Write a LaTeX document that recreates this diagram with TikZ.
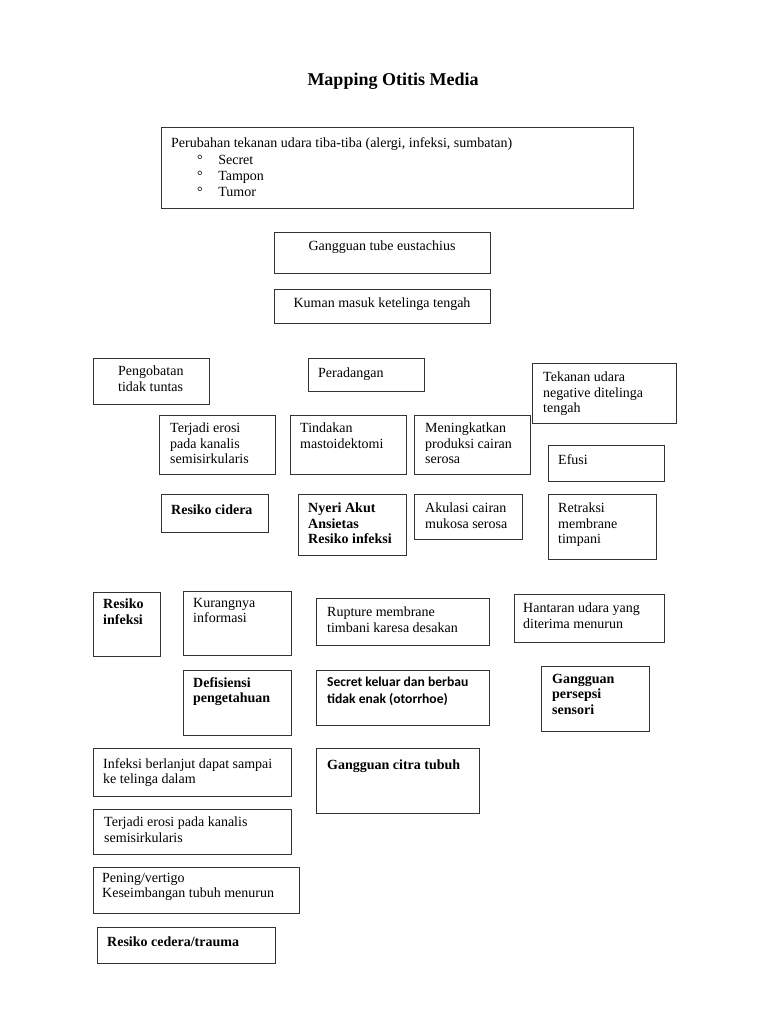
\documentclass[tikz,border=0pt]{standalone}
\usepackage{fontspec}
\setmainfont{Liberation Serif}
\newfontfamily\calibfont{Carlito}
\usepackage{tikz}
\newcommand\mapfont{\fontsize{14}{15.5}\selectfont}

\tikzset{
  box/.style={draw=black!80, line width=0.9pt, inner sep=0pt, outer sep=0pt, anchor=north west},
  txt/.style={anchor=north west, inner sep=0pt, align=left, font=\mapfont, yshift=-2pt, execute at begin node=\strut},
  btxt/.style={txt, font=\mapfont\bfseries},
}

\begin{document}
\begin{tikzpicture}[x=1pt, y=-1pt]
    % Page frame
    \useasboundingbox (0,0) rectangle (768,1024);
    \fill[white] (0,0) rectangle (768,1024);

    % Title
    \node[anchor=base, inner sep=0pt, font=\fontsize{18}{21}\selectfont\bfseries] (title) at (393,86) {Mapping Otitis Media};

    % Causes
    \node[box, minimum width=472pt, minimum height=81pt] (perubahan) at (161,127) {};
    \node[txt] (perubahanT) at (171,134) {Perubahan tekanan udara tiba-tiba (alergi, infeksi, sumbatan)};
    \foreach \i/\item in {1/Secret, 2/Tampon, 3/Tumor}
        \node[txt] (bullet\i) at (197,135+16*\i) {°\hspace{15.5pt}\item};

    \node[box, minimum width=216pt, minimum height=41pt] (tube) at (274,232) {};
    \node[txt, anchor=north] (tubeT) at (382,237) {Gangguan tube eustachius};

    \node[box, minimum width=216pt, minimum height=34pt] (kuman) at (274,289) {};
    \node[txt, anchor=north] (kumanT) at (382,294) {Kuman masuk ketelinga tengah};

    % Second level
    \node[box, minimum width=116pt, minimum height=46pt] (pengobatan) at (93,358) {};
    \node[txt] (pengobatanT) at (118,364) {Pengobatan\\tidak tuntas};

    \node[box, minimum width=116pt, minimum height=33pt] (peradangan) at (308,358) {};
    \node[txt] (peradanganT) at (318,364) {Peradangan};

    \node[box, minimum width=144pt, minimum height=60pt] (tekanan) at (532,363) {};
    \node[txt] (tekananT) at (543,370) {Tekanan udara\\negative ditelinga\\tengah};

    \node[box, minimum width=116pt, minimum height=59pt] (erosi) at (159,415) {};
    \node[txt] (erosiT) at (170,421) {Terjadi erosi\\pada kanalis\\semisirkularis};

    \node[box, minimum width=116pt, minimum height=59pt] (tindakan) at (290,415) {};
    \node[txt] (tindakanT) at (300,421) {Tindakan\\mastoidektomi};

    \node[box, minimum width=116pt, minimum height=59pt] (produksi) at (414,415) {};
    \node[txt] (produksiT) at (425,421) {Meningkatkan\\produksi cairan\\serosa};

    \node[box, minimum width=116pt, minimum height=36pt] (efusi) at (548,445) {};
    \node[txt] (efusiT) at (558,451) {Efusi};

    % Third level
    \node[box, minimum width=107pt, minimum height=38pt] (cidera) at (161,494) {};
    \node[btxt] (cideraT) at (171,501) {Resiko cidera};

    \node[box, minimum width=108pt, minimum height=61pt] (nyeri) at (298,494) {};
    \node[btxt] (nyeriT) at (308,501) {Nyeri Akut\\Ansietas\\Resiko infeksi};

    \node[box, minimum width=108pt, minimum height=45pt] (akulasi) at (414,494) {};
    \node[txt] (akulasiT) at (425,501) {Akulasi cairan\\mukosa serosa};

    \node[box, minimum width=108pt, minimum height=65pt] (retraksi) at (548,494) {};
    \node[txt] (retraksiT) at (558,501) {Retraksi\\membrane\\timpani};

    % Fourth level
    \node[box, minimum width=67pt, minimum height=64pt] (infeksi) at (93,592) {};
    \node[btxt] (infeksiT) at (103,597) {Resiko\\infeksi};

    \node[box, minimum width=108pt, minimum height=64pt] (kurang) at (183,591) {};
    \node[txt] (kurangT) at (193,596) {Kurangnya\\informasi};

    \node[box, minimum width=173pt, minimum height=47pt] (rupture) at (316,598) {};
    \node[txt] (ruptureT) at (327,605) {Rupture membrane\\timbani karesa desakan};

    \node[box, minimum width=150pt, minimum height=48pt] (hantaran) at (514,594) {};
    \node[txt] (hantaranT) at (523,601) {Hantaran udara yang\\diterima menurun};

    \node[box, minimum width=108pt, minimum height=65pt] (defisiensi) at (183,670) {};
    \node[btxt] (defisiensiT) at (193,675) {Defisiensi\\pengetahuan};

    \node[box, minimum width=173pt, minimum height=55pt] (otorrhoe) at (316,670) {};
    \node[txt, font=\calibfont\fontsize{13.6}{16.8}\selectfont\bfseries] (otorrhoeT) at (327,675) {Secret keluar dan berbau\\tidak enak (otorrhoe)};

    \node[box, minimum width=108pt, minimum height=65pt] (persepsi) at (541,666) {};
    \node[btxt] (persepsiT) at (552,672) {Gangguan\\persepsi\\sensori};

    % Lower column
    \node[box, minimum width=198pt, minimum height=48pt] (lanjut) at (93,748) {};
    \node[txt] (lanjutT) at (103,756) {Infeksi berlanjut dapat sampai\\ke telinga dalam};

    \node[box, minimum width=163pt, minimum height=65pt] (citra) at (316,748) {};
    \node[btxt] (citraT) at (327,756) {Gangguan citra tubuh};

    \node[box, minimum width=198pt, minimum height=45pt] (kanalis) at (93,809) {};
    \node[txt] (kanalisT) at (104,815) {Terjadi erosi pada kanalis\\semisirkularis};

    \node[box, minimum width=206pt, minimum height=46pt] (pening) at (93,867) {};
    \node[txt] (peningT) at (102,871) {Pening/vertigo\\Keseimbangan tubuh menurun};

    \node[box, minimum width=178pt, minimum height=36pt] (trauma) at (97,927) {};
    \node[btxt] (traumaT) at (107,933) {Resiko cedera/trauma};
\end{tikzpicture}
\end{document}
